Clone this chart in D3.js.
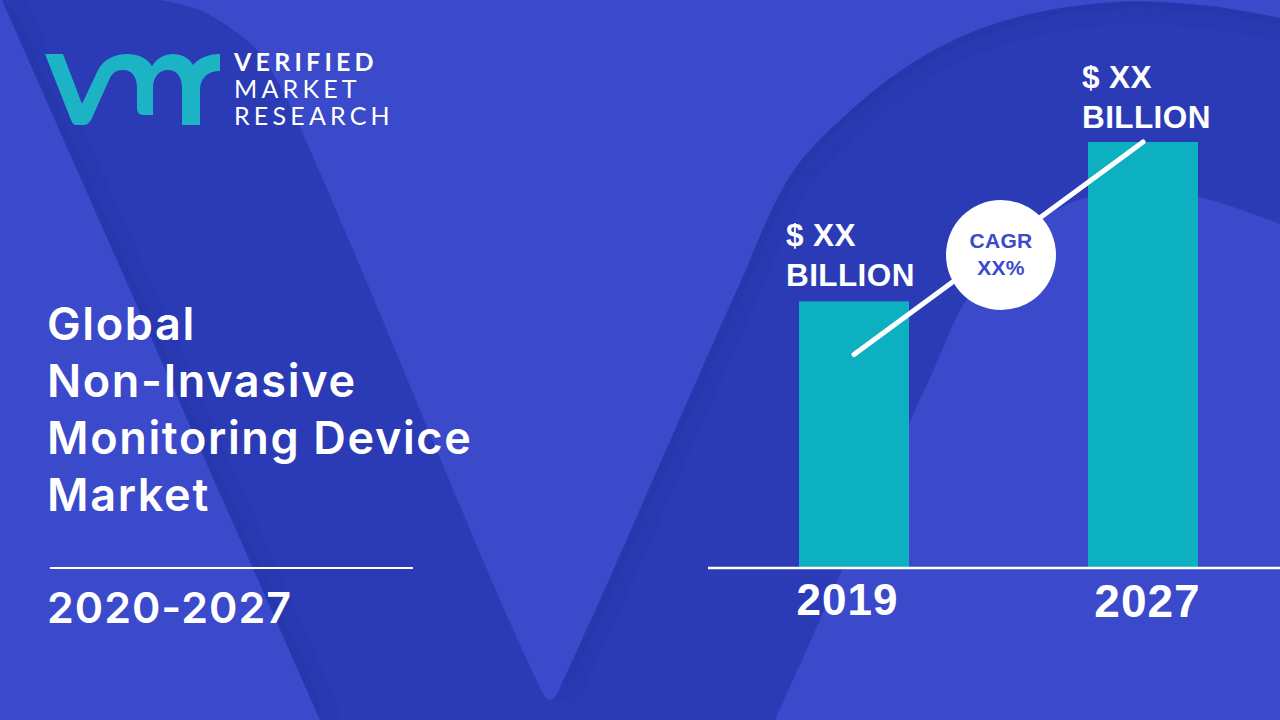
<!DOCTYPE html>
<html>
<head>
<meta charset="utf-8">
<script src="https://cdn.jsdelivr.net/npm/d3@7"></script>
<style>
    html, body { margin: 0; padding: 0; background: #3b49cb; }
    svg { display: block; }
    text { fill: #fff; }
    .title { font-family: Inter, sans-serif; font-weight: 600; font-size: 45px; letter-spacing: 1.65px; }
    .period { font-family: Inter, sans-serif; font-weight: 600; font-size: 43px; letter-spacing: 1px; }
    .logo-text { font-family: Lato, sans-serif; font-size: 25px; letter-spacing: 4.2px; }
    .bar-label { font-family: "Liberation Sans", sans-serif; font-weight: 700; font-size: 31.5px; letter-spacing: 0.4px; }
    .tick text { font-family: "Liberation Sans", sans-serif; font-weight: 700; letter-spacing: 1px; fill: #fff; }
    .cagr { font-family: "Liberation Sans", sans-serif; font-weight: 700; font-size: 21px; letter-spacing: 0.3px; fill: #3b49cb; text-anchor: middle; }
</style>
</head>
<body>
<svg id="chart" width="1280" height="720"></svg>
<script>
const years = [2019, 2027];
// relative bar heights, the picture hides the real figures
const marketSize = [100, 160];
const trendValues = [80, 160];
const barLabels = ['$ XX', 'BILLION'];
const cagrLabels = ['CAGR', 'XX%'];
const titleLines = ['Global', 'Non-Invasive', 'Monitoring Device', 'Market'];
const period = '2020-2027';
const logoLines = ['VERIFIED', 'MARKET', 'RESEARCH'];

const svg = d3.select('#chart');

const x = d3.scaleLinear().domain([2019, 2027]).range([854, 1143]);
const y = d3.scaleLinear().domain([0, 160]).range([567, 142]);

//background V shape
const smooth = d3.line().curve(d3.curveCatmullRom.alpha(0.5));
const rightEdge = [[560, 688], [600, 600], [700, 373], [737, 290], [792, 173], [848, 113], [917, 60], [1000, 22], [1113, 2], [1210, 6], [1290, 20]];
const lowerEdge = [[1290, 228], [1199, 197], [1130, 192], [1070, 203], [1010, 245], [966, 300], [929, 380], [842, 570], [811, 640], [775, 720]];
const topEdge = [[160, 0], [200, 10], [233, 30], [257, 50], [285, 95], [310, 150], [370, 290], [500, 600], [540, 688]];
const darkShape = 'M2,0' + smooth(topEdge).replace('M', 'L')
    + 'Q550,712 ' + smooth(rightEdge).replace('M', '')
    + smooth(lowerEdge).replace('M', 'L')
    + 'L320,720Z';

const defs = svg.append('defs');
defs.append('filter').attr('id', 'soft')
    .append('feGaussianBlur').attr('stdDeviation', 9);
defs.append('clipPath').attr('id', 'dark-clip')
    .append('path').attr('d', darkShape);

svg.append('path')
    .attr('fill', '#2a3bb5')
    .attr('d', darkShape);

//soft shade that runs along the edges of the V
const shade = svg.append('g')
    .attr('clip-path', 'url(#dark-clip)')
    .append('g')
    .attr('filter', 'url(#soft)')
    .attr('fill', 'none')
    .attr('stroke', '#22309c')
    .attr('stroke-opacity', 0.55)
    .attr('stroke-width', 16);
shade.append('path').attr('d', smooth(rightEdge));
shade.append('path').attr('d', 'M2,0L320,720');

//logo
svg.append('path')
    .attr('fill', '#1cb4c4')
    .attr('d', 'M45,54L63,54L82,104L98,70C104,59 115,54 127,54C138,54 147,58 152,66C157,58 165,54 173,54'
        + 'C182,54 189,58 193,65C199,58 208,54 220,54L220,71C208,71 200,78 200,90L200,125L182,125L182,88'
        + 'C182,77 177,70 168,70C159,70 153,77 153,88L153,115L143,115C139,115 137,112 137,108L137,88'
        + 'C137,77 132,70 123,70C116,70 112,73 109,80L92,118C89,125 85,125 82,125L76,125C74,125 72,123 71,120Z');

svg.selectAll('.logo-text').data(logoLines).enter().append('text')
    .attr('class', 'logo-text')
    .attr('x', 234)
    .attr('y', (d, i) => [71, 98, 125][i])
    .attr('font-weight', (d, i) => i == 0 ? 700 : 400)
    .text(d => d);

//title block
svg.selectAll('.title-line').data(titleLines).enter().append('text')
    .attr('class', 'title title-line')
    .attr('x', 47)
    .attr('y', (d, i) => 340 + i * 57)
    .text(d => d);

svg.append('line')
    .attr('x1', 50).attr('x2', 413)
    .attr('y1', 568).attr('y2', 568)
    .attr('stroke', '#fff')
    .attr('stroke-width', 2);

svg.append('text')
    .attr('class', 'period')
    .attr('x', 47)
    .attr('y', 623)
    .text(period);

//bars
const rows = years.map((d, i) => ({ year: d, value: marketSize[i], trend: trendValues[i] }));

svg.selectAll('.bar').data(rows).enter().append('rect')
    .attr('class', 'bar')
    .attr('x', d => x(d.year) - 55)
    .attr('width', 110)
    .attr('y', d => y(d.value))
    .attr('height', d => y(0) - y(d.value))
    .attr('fill', '#0db0c0');

//axis
const axis = d3.axisBottom(x).tickValues(years).tickFormat(d3.format('d')).tickSize(0);
const axisG = svg.append('g')
    .attr('transform', 'translate(0,' + y(0) + ')')
    .call(axis);
axisG.select('.domain').remove();
axisG.selectAll('.tick text')
    .attr('font-size', (d, i) => i == 0 ? 44 : 46)
    .attr('dx', (d, i) => i == 0 ? -7 : 4)
    .attr('y', (d, i) => i == 0 ? 16.5 : 17)
    .attr('dy', '0.71em');

svg.append('line')
    .attr('x1', 708).attr('x2', 1280)
    .attr('y1', y(0) + 1).attr('y2', y(0) + 1)
    .attr('stroke', '#fff')
    .attr('stroke-width', 2.5);

//trend line and the CAGR badge
const trend = d3.line().x(d => x(d.year)).y(d => y(d.trend));
svg.append('path')
    .attr('d', trend(rows))
    .attr('fill', 'none')
    .attr('stroke', '#fff')
    .attr('stroke-width', 5)
    .attr('stroke-linecap', 'round');

svg.append('circle')
    .attr('cx', 1001).attr('cy', 255).attr('r', 55)
    .attr('fill', '#fff');

svg.selectAll('.cagr').data(cagrLabels).enter().append('text')
    .attr('class', 'cagr')
    .attr('x', 1001)
    .attr('y', (d, i) => 248 + i * 27)
    .text(d => d);

//labels over the bars
rows.forEach((row, n) => {
    svg.selectAll('.label-' + n).data(barLabels).enter().append('text')
        .attr('class', 'bar-label label-' + n)
        .attr('x', n == 0 ? 786 : 1082)
        .attr('y', (d, i) => (n == 0 ? 246 : 88) + i * 40)
        .text(d => d);
});
</script>
</body>
</html>
